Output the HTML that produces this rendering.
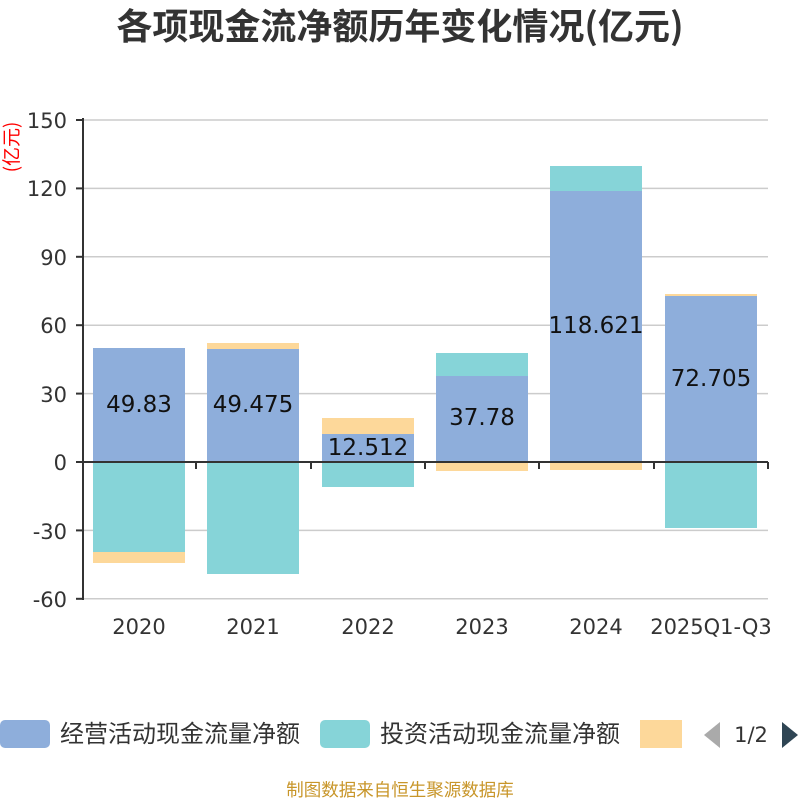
<!DOCTYPE html>
<html><head><meta charset="utf-8"><style>
body{margin:0;background:#fff;}
svg text{font-family:"DejaVu Sans","Noto Sans CJK SC",sans-serif;}
</style></head><body>
<svg width="800" height="800" xmlns="http://www.w3.org/2000/svg">
<text x="400" y="39" text-anchor="middle" font-size="36" font-weight="bold" fill="#333" style="font-family:'Noto Sans CJK SC',sans-serif">各项现金流净额历年变化情况(亿元)</text>
<text transform="translate(18,147) rotate(-90)" text-anchor="middle" font-size="19" fill="#f00" style="font-family:'Noto Sans CJK SC',sans-serif">(亿元)</text>
<g stroke="#ccc" stroke-width="1.5">
<line x1="83" x2="768" y1="120" y2="120"/><line x1="83" x2="768" y1="188.4" y2="188.4"/>
<line x1="83" x2="768" y1="256.8" y2="256.8"/><line x1="83" x2="768" y1="325.2" y2="325.2"/>
<line x1="83" x2="768" y1="393.6" y2="393.6"/><line x1="83" x2="768" y1="530.4" y2="530.4"/>
<line x1="83" x2="768" y1="598.8" y2="598.8"/>
</g>
<g font-size="21" fill="#333" text-anchor="end">
<text x="67" y="128">150</text><text x="67" y="196">120</text><text x="67" y="265">90</text>
<text x="67" y="333">60</text><text x="67" y="402">30</text><text x="67" y="470">0</text>
<text x="67" y="539">-30</text><text x="67" y="607">-60</text>
</g>
<g>
<rect x="93" y="348" width="92" height="114" fill="#8eaedb"/>
<rect x="93" y="462" width="92" height="90" fill="#86d4d8"/>
<rect x="93" y="552" width="92" height="11" fill="#fdd89a"/>
<rect x="207" y="349" width="92" height="113" fill="#8eaedb"/>
<rect x="207" y="343" width="92" height="6" fill="#fdd89a"/>
<rect x="207" y="462" width="92" height="112" fill="#86d4d8"/>
<rect x="322" y="434" width="92" height="28" fill="#8eaedb"/>
<rect x="322" y="418" width="92" height="16" fill="#fdd89a"/>
<rect x="322" y="462" width="92" height="25" fill="#86d4d8"/>
<rect x="436" y="376" width="92" height="86" fill="#8eaedb"/>
<rect x="436" y="353" width="92" height="23" fill="#86d4d8"/>
<rect x="436" y="462" width="92" height="9" fill="#fdd89a"/>
<rect x="550" y="191" width="92" height="271" fill="#8eaedb"/>
<rect x="550" y="166" width="92" height="25" fill="#86d4d8"/>
<rect x="550" y="462" width="92" height="8" fill="#fdd89a"/>
<rect x="665" y="296" width="92" height="166" fill="#8eaedb"/>
<rect x="665" y="294" width="92" height="2" fill="#fdd89a"/>
<rect x="665" y="462" width="92" height="66" fill="#86d4d8"/>
</g>
<g font-size="23" fill="#111" text-anchor="middle">
<text x="139" y="412">49.83</text><text x="253" y="412">49.475</text>
<text x="368" y="455">12.512</text><text x="482" y="425">37.78</text>
<text x="596" y="333">118.621</text><text x="711" y="386">72.705</text>
</g>
<g stroke="#333" stroke-width="2">
<line x1="83" y1="118" x2="83" y2="600"/>
<line x1="76" y1="120" x2="83" y2="120"/><line x1="76" y1="188.4" x2="83" y2="188.4"/>
<line x1="76" y1="256.8" x2="83" y2="256.8"/><line x1="76" y1="325.2" x2="83" y2="325.2"/>
<line x1="76" y1="393.6" x2="83" y2="393.6"/><line x1="76" y1="462" x2="83" y2="462"/>
<line x1="76" y1="530.4" x2="83" y2="530.4"/><line x1="76" y1="598.8" x2="83" y2="598.8"/>
<line x1="83" y1="462" x2="768" y2="462"/>
<line x1="196" y1="462" x2="196" y2="469"/><line x1="311" y1="462" x2="311" y2="469"/>
<line x1="425" y1="462" x2="425" y2="469"/><line x1="539" y1="462" x2="539" y2="469"/>
<line x1="654" y1="462" x2="654" y2="469"/><line x1="768" y1="462" x2="768" y2="469"/>
</g>
<g font-size="21" fill="#333" text-anchor="middle">
<text x="139" y="634">2020</text><text x="253" y="634">2021</text><text x="368" y="634">2022</text>
<text x="482" y="634">2023</text><text x="596" y="634">2024</text><text x="711" y="634">2025Q1-Q3</text>
</g>
<rect x="0" y="720" width="50" height="28" rx="5" fill="#8eaedb"/>
<text x="60" y="742" font-size="24" fill="#333" style="font-family:'Noto Sans CJK SC',sans-serif">经营活动现金流量净额</text>
<rect x="320" y="720" width="50" height="28" rx="5" fill="#86d4d8"/>
<text x="380" y="742" font-size="24" fill="#333" style="font-family:'Noto Sans CJK SC',sans-serif">投资活动现金流量净额</text>
<rect x="640" y="720" width="42" height="28" fill="#fdd89a"/>
<polygon points="720,722 720,748 704,735" fill="#aaa"/>
<text x="751" y="742" font-size="21" fill="#333" text-anchor="middle">1/2</text>
<polygon points="782,722 782,748 798,735" fill="#2f4554"/>
<text x="400" y="796" font-size="17.5" fill="#c8962a" text-anchor="middle" style="font-family:'Noto Sans CJK SC',sans-serif">制图数据来自恒生聚源数据库</text>
</svg>
</body></html>
